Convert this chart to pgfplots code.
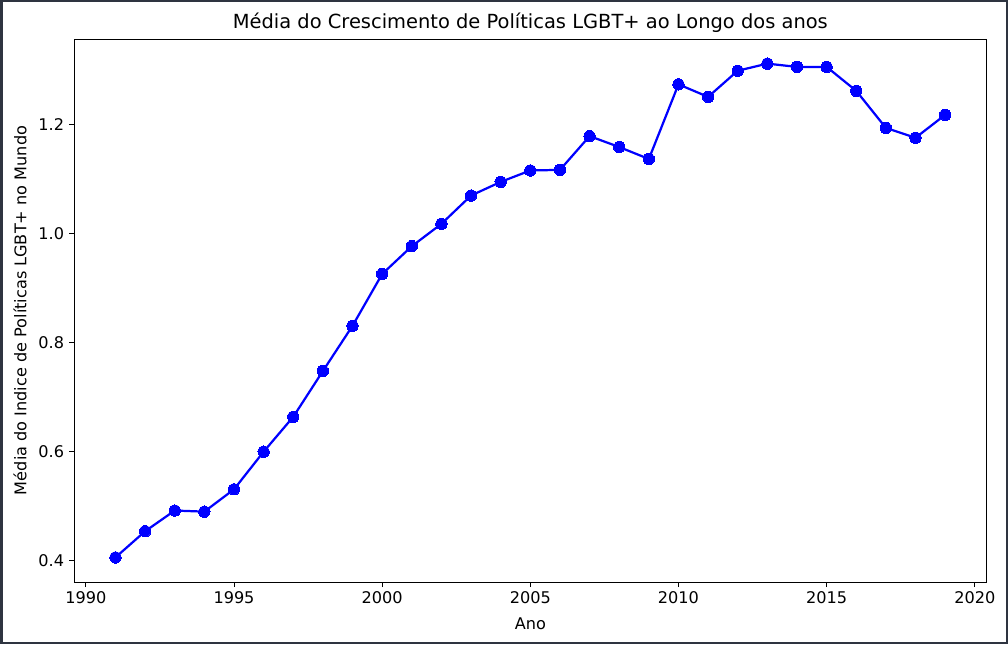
\documentclass[border=0pt]{standalone}
\usepackage{pgfplots}
\pgfplotsset{compat=1.18}
\usepackage{fontspec}
\setmainfont{DejaVu Sans}
\definecolor{framecol}{HTML}{2E3440}

\pgfplotstableread{
year value
1991 0.406
1992 0.454
1993 0.492
1994 0.490
1995 0.531
1996 0.600
1997 0.664
1998 0.748
1999 0.831
2000 0.926
2001 0.977
2002 1.018
2003 1.070
2004 1.095
2005 1.116
2006 1.117
2007 1.179
2008 1.159
2009 1.137
2010 1.274
2011 1.251
2012 1.299
2013 1.312
2014 1.306
2015 1.306
2016 1.262
2017 1.194
2018 1.176
2019 1.218
}\lgbtdata

\begin{document}
\begin{tikzpicture}[x=0.72pt,y=0.72pt]
% screenshot frame
\fill[framecol] (0,0) rectangle (1008,644);
\fill[white] (2.5,2.5) rectangle (1005.5,641.5);
\useasboundingbox (0,0) rectangle (1008,644);
\begin{axis}[
    at={(53.28pt,44.64pt)}, anchor=south west,
    scale only axis,
    width=657.1pt, height=391pt,
    xmin=1989.6, xmax=2020.4,
    ymin=0.3609, ymax=1.3573,
    xtick={1990,1995,...,2020},
    ytick={0.4,0.6,0.8,1.0,1.2},
    tick pos=left,
    tick align=outside,
    major tick length=3.6pt,
    every tick/.style={black, line width=0.6pt},
    axis line style={line width=0.6pt, black},
    ticklabel style={font=\fontsize{11.6}{13}\selectfont},
    /pgf/number format/assume math mode=true,
    x tick label style={/pgf/number format/1000 sep={}},
    y tick label style={/pgf/number format/.cd, fixed, fixed zerofill, precision=1},
    title={Média do Crescimento de Políticas LGBT+ ao Longo dos anos},
    title style={font=\fontsize{14}{16}\selectfont, at={(axis description cs:0.5,1)}, anchor=base, yshift=1.4pt},
    xlabel={Ano},
    xlabel style={font=\fontsize{11.6}{13}\selectfont, yshift=-3.3pt},
    ylabel={Média do Indice de Políticas LGBT+ no Mundo},
    ylabel style={font=\fontsize{11.6}{13}\selectfont, yshift=1.6pt},
]
\addplot[color=blue, line width=1.6pt, mark=*, mark size=4.1pt, mark options={solid, fill=blue, draw=blue, line width=0pt}]
    table[x=year, y=value] {\lgbtdata};
\end{axis}
\end{tikzpicture}
\end{document}
